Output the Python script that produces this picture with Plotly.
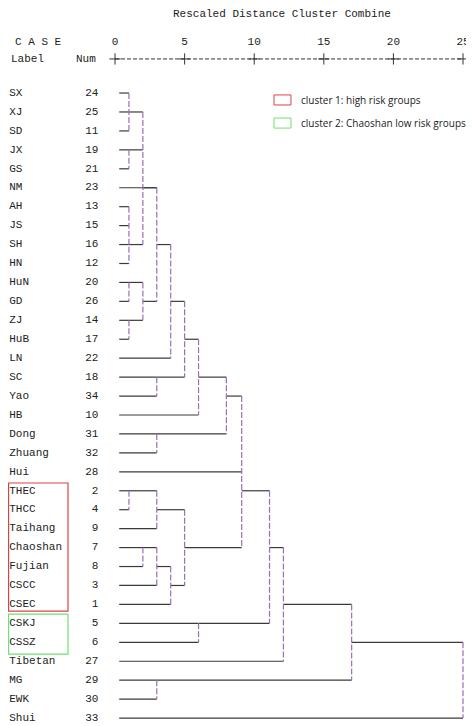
import plotly.graph_objects as go

labels = ["SX", "XJ", "SD", "JX", "GS", "NM", "AH", "JS", "SH", "HN", "HuN", "GD", "ZJ",
          "HuB", "LN", "SC", "Yao", "HB", "Dong", "Zhuang", "Hui", "THEC", "THCC", "Taihang",
          "Chaoshan", "Fujian", "CSCC", "CSEC", "CSKJ", "CSSZ", "Tibetan", "MG", "EWK", "Shui"]
nums = [24, 25, 11, 19, 21, 23, 13, 15, 16, 12, 20, 26, 14, 17, 22, 18, 34, 10, 31, 32, 28,
        2, 4, 9, 7, 8, 3, 1, 5, 6, 27, 29, 30, 33]
ticks = [0, 5, 10, 15, 20, 25]

# merges: name -> (distance, node row, children); leaves are referred to by row index
merges = {
    "a1": (1.0, 1, [0, 1, 2]),
    "a2": (1.0, 3, [3, 4]),
    "a3": (1.0, 8, [6, 7, 8, 9]),
    "b": (2.0, 5, ["a1", "a2", "a3"]),
    "d1": (1.0, 10, [10, 11]),
    "d2": (1.0, 12, [12, 13]),
    "d": (2.0, 11, ["d1", "d2"]),
    "c": (3.0, 8, [5, "b", "d"]),
    "e": (4.0, 11, ["c", 14]),
    "sy": (3.0, 15, [15, 16]),
    "f": (5.0, 13, ["e", "sy"]),
    "g": (6.0, 15, ["f", 17]),
    "dz": (3.0, 18, [18, 19]),
    "h": (8.0, 16, ["g", "dz"]),
    "k1": (1.0, 21, [21, 22]),
    "k2": (3.0, 22, ["k1", 23]),
    "k3": (2.0, 24, [24, 25]),
    "k4": (3.0, 25, ["k3", 26]),
    "k5": (4.0, 26, ["k4", 27]),
    "k": (5.0, 24, ["k2", "k5"]),
    "i": (9.1, 21, ["h", 20, "k"]),
    "cs": (6.0, 28, [28, 29]),
    "j": (11.1, 24, ["i", "cs"]),
    "l": (12.1, 27, ["j", 30]),
    "me": (3.0, 31, [31, 32]),
    "m": (17.0, 29, ["l", "me"]),
    "root": (25.0, 31, ["m", 33]),
}
leaf_x = 0.3

def pos(ch):
    if isinstance(ch, int):
        return leaf_x, ch
    return merges[ch][0], merges[ch][1]

hx, hy, vx, vy = [], [], [], []
for name, (d, row, kids) in merges.items():
    ys = []
    for ch in kids:
        cx, cy = pos(ch)
        hx += [cx, d, None]
        hy += [cy, cy, None]
        ys.append(cy)
    vx += [d, d, None]
    vy += [min(ys), max(ys), None]

fig = go.Figure()
fig.add_trace(go.Scatter(x=hx, y=hy, mode="lines", line=dict(color="#3a3a3a", width=1.2),
                         hoverinfo="skip"))
fig.add_trace(go.Scatter(x=vx, y=vy, mode="lines", line=dict(color="#9a6fb5", width=1.2, dash="6px,2px"),
                         hoverinfo="skip"))

mono = dict(family="Liberation Mono, DejaVu Sans Mono", size=11, color="#222")
rows = list(range(len(labels)))
fig.add_trace(go.Scatter(x=[-7.6] * len(labels), y=rows, mode="text", text=labels,
                         textposition="middle right", textfont=mono, hoverinfo="skip"))
fig.add_trace(go.Scatter(x=[-1.2] * len(nums), y=rows, mode="text", text=[str(n) for n in nums],
                         textposition="middle left", textfont=mono, hoverinfo="skip"))

# header scale
fig.add_trace(go.Scatter(x=[0, 25], y=[-1.8, -1.8], mode="lines",
                         line=dict(color="#333", width=1, dash="4px,2px"), hoverinfo="skip"))
fig.add_trace(go.Scatter(x=ticks, y=[-1.8] * len(ticks), mode="markers",
                         marker=dict(symbol="cross-thin", size=8, line=dict(color="#333", width=1)),
                         hoverinfo="skip"))
fig.add_trace(go.Scatter(x=ticks, y=[-2.7] * len(ticks), mode="text", text=[str(t) for t in ticks],
                         textfont=mono, hoverinfo="skip"))

anns = [("Rescaled Distance Cluster Combine", 12.0, -4.15, "center"),
        ("C A S E", -7.3, -2.7, "left"), ("Label", -7.6, -1.8, "left"), ("Num", -1.2, -1.8, "right")]
for t, x, y, a in anns:
    fig.add_annotation(x=x, y=y, text=t, showarrow=False, xanchor=a, font=mono)

sans = dict(family="Open Sans, Noto Sans", size=10, color="#222")
fig.add_annotation(x=13.2, y=0.37, text="cluster 1: high risk groups", showarrow=False,
                   xanchor="left", font=sans)
fig.add_annotation(x=13.2, y=1.6, text="cluster 2: Chaoshan low risk groups", showarrow=False,
                   xanchor="left", font=sans)

fig.add_shape(type="rect", x0=-7.65, x1=-3.38, y0=20.59, y1=27.35, line=dict(color="#e04040", width=1.2))
fig.add_shape(type="rect", x0=-7.65, x1=-3.38, y0=27.51, y1=29.62, line=dict(color="#70e070", width=1.2))
fig.add_shape(type="rect", x0=11.42, x1=12.64, y0=0.1, y1=0.63, line=dict(color="#e04040", width=1))
fig.add_shape(type="rect", x0=11.42, x1=12.64, y0=1.32, y1=1.85, line=dict(color="#70e070", width=1))

# the page adds an 8px body margin, so the figure is sized to fit the remaining window
fig.update_layout(
    width=466, height=718, margin=dict(l=0, r=0, t=0, b=0),
    plot_bgcolor="white", paper_bgcolor="white", showlegend=False,
    xaxis=dict(range=[-7.69, 25.79], visible=False, fixedrange=True),
    yaxis=dict(range=[33.42, -4.49], visible=False, fixedrange=True),
)
fig.write_html("out.html")
